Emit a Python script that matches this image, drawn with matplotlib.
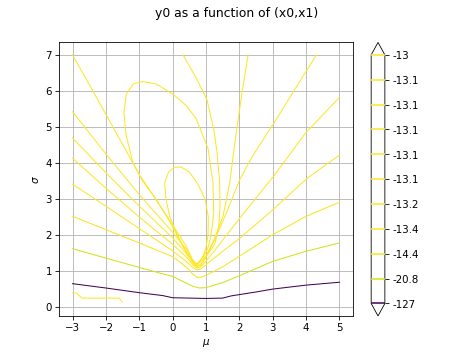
# contour lines of y0 over (mu, sigma)

import matplotlib.pyplot as plt
import matplotlib.colors as mcolors
import matplotlib.cm as cm

# contour levels and the labels the colorbar shows for them
levels = [-127.0, -20.8, -14.4, -13.4, -13.2, -13.14, -13.12, -13.10, -13.08, -13.06, -13.0]
level_labels = ['-127', '-20.8', '-14.4', '-13.4', '-13.2', '-13.1', '-13.1', '-13.1', '-13.1', '-13.1', '-13']

# level -127
mu_l0 = [-3, -2, -1, -0.3, 0, 1, 1.5, 1.75, 2.5, 3, 4, 5]
sig_l0 = [0.65, 0.53, 0.40, 0.32, 0.26, 0.24, 0.25, 0.31, 0.42, 0.50, 0.61, 0.69]

# level -20.8
mu_l1 = [-3, -2, -1, 0, 0.4, 0.6, 0.8, 1.0, 1.5, 2, 3, 4, 5]
sig_l1 = [1.62, 1.36, 1.10, 0.85, 0.67, 0.58, 0.53, 0.54, 0.68, 0.87, 1.27, 1.55, 1.78]

# level -14.4
mu_l2 = [-3, -2, -1, 0, 0.4, 0.6, 0.75, 0.9, 1.2, 1.5, 2, 3, 4, 5]
sig_l2 = [2.52, 2.15, 1.78, 1.40, 1.12, 0.92, 0.82, 0.84, 0.97, 1.12, 1.41, 2.01, 2.52, 2.91]

# level -13.4
mu_l3 = [-3, -2, -1, 0, 0.4, 0.6, 0.73, 0.85, 1.1, 1.5, 2, 3, 4, 5]
sig_l3 = [3.41, 2.80, 2.18, 1.56, 1.27, 1.10, 1.03, 1.06, 1.25, 1.55, 1.90, 2.70, 3.55, 4.22]

# level -13.2
mu_l4 = [-3, -2, -1, 0, 0.4, 0.6, 0.72, 0.85, 1.0, 1.3, 1.7, 2.3, 3.0, 4.0, 5]
sig_l4 = [4.13, 3.30, 2.50, 1.74, 1.40, 1.18, 1.08, 1.12, 1.28, 1.62, 2.10, 2.80, 3.60, 4.85, 5.82]

# first -13.1 level
mu_l5 = [-3, -2, -1, 0, 0.4, 0.6, 0.72, 0.85, 1.0, 1.3, 1.65, 2.01, 2.4, 3.1, 3.7, 4.31]
sig_l5 = [4.69, 3.73, 2.80, 1.92, 1.50, 1.23, 1.11, 1.17, 1.38, 1.95, 2.70, 3.54, 4.20, 5.20, 6.10, 7.0]

# second -13.1 level
mu_l6 = [-3, -2, -1, 0, 0.4, 0.6, 0.72, 0.85, 1.0, 1.25, 1.51, 1.71, 1.84, 1.96, 2.08, 2.26]
sig_l6 = [5.42, 4.25, 3.12, 2.08, 1.62, 1.28, 1.13, 1.20, 1.40, 1.90, 2.52, 3.45, 4.38, 5.20, 5.95, 7.0]

# third -13.1 level
mu_l7 = [-3, -2, -1, 0, 0.4, 0.6, 0.72, 0.9, 1.1, 1.26, 1.38, 1.42, 1.41, 1.33, 1.24, 1.03, 0.71, 0.31]
sig_l7 = [7.0, 5.35, 3.68, 2.28, 1.70, 1.31, 1.16, 1.33, 1.53, 1.75, 2.20, 2.80, 3.45, 4.30, 4.90, 5.75, 6.35, 7.0]

# fourth -13.1 level (closed loop)
mu_l8 = [0.72, 0.92, 1.05, 1.13, 1.18, 1.23, 1.21, 1.06, 0.71, 0.41, 0.01, -0.49, -0.89, -1.19,
         -1.39, -1.46, -1.40, -1.19, -0.90, -0.50, -0.10, 0.30, 0.55, 0.72]
sig_l8 = [1.17, 1.40, 1.62, 1.90, 2.20, 2.60, 3.45, 4.40, 5.22, 5.59, 5.91, 6.19, 6.26, 6.19,
          5.90, 5.40, 4.80, 4.00, 3.50, 3.00, 2.40, 1.70, 1.32, 1.17]

# fifth -13.1 level (small piece at the bottom left)
mu_l9 = [-3.0, -2.88, -2.72, -1.6, -1.52]
sig_l9 = [0.39, 0.39, 0.25, 0.25, 0.14]

# level -13 (closed loop)
mu_l10 = [0.72, 0.88, 0.99, 1.06, 1.07, 0.97, 0.75, 0.5, 0.25, 0.05, -0.12, -0.24, -0.20, -0.09,
          0.05, 0.21, 0.45, 0.72]
sig_l10 = [1.19, 1.35, 1.60, 2.00, 2.50, 3.00, 3.42, 3.75, 3.89, 3.88, 3.75, 3.45, 3.00, 2.52,
           2.20, 1.87, 1.45, 1.19]

curves = [(mu_l0, sig_l0), (mu_l1, sig_l1), (mu_l2, sig_l2), (mu_l3, sig_l3), (mu_l4, sig_l4),
          (mu_l5, sig_l5), (mu_l6, sig_l6), (mu_l7, sig_l7), (mu_l8, sig_l8), (mu_l9, sig_l9),
          (mu_l10, sig_l10)]


def main():
    fig, ax = plt.subplots(figsize=(6.4, 4.8), dpi=74)

    cmap = plt.get_cmap('viridis')
    line_norm = mcolors.Normalize(vmin=min(levels), vmax=max(levels))
    line_colors = [cmap(line_norm(lev)) for lev in levels]

    for (mu, sig), col in zip(curves, line_colors):
        ax.plot(mu, sig, color=col, linewidth=1.0)

    ax.set_xlim(-3.4, 5.4)
    ax.set_ylim(-0.245, 7.345)
    ax.grid(True)
    ax.set_xlabel(r'$\mu$')
    ax.set_ylabel(r'$\sigma$')
    fig.suptitle('y0 as a function of (x0,x1)')

    # colorbar of a line contour: white inside, only the level lines are coloured
    white = mcolors.ListedColormap(['white'] * (len(levels) + 1))
    bnorm = mcolors.BoundaryNorm(levels, white.N, extend='both')
    sm = cm.ScalarMappable(norm=bnorm, cmap=white)
    cbar = fig.colorbar(sm, ax=ax, extend='both', spacing='uniform')
    cbar.ax.hlines(levels, 0, 1, colors=line_colors, linewidths=1.5,
                   transform=cbar.ax.get_yaxis_transform(), clip_on=False, zorder=5)
    cbar.set_ticks(levels, labels=level_labels)

    fig.savefig('out.png', dpi=74)


if __name__ == '__main__':
    main()
